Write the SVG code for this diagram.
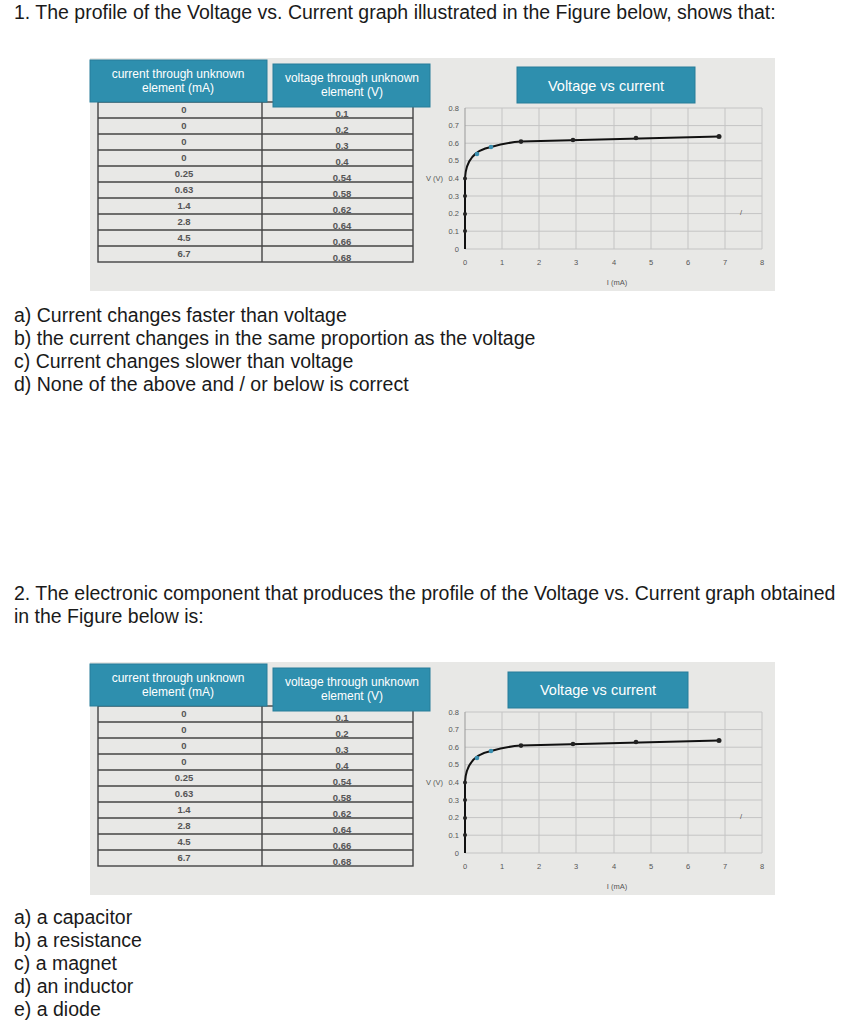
<svg xmlns="http://www.w3.org/2000/svg" xmlns:xlink="http://www.w3.org/1999/xlink" width="846" height="1024" viewBox="0 0 846 1024">
<style>
.q{font-family:"Liberation Sans",Arial,sans-serif;font-size:19.5px;fill:#1a1a1a}
.lbl{fill:#2e8fae;stroke:#267d99;stroke-width:1}
.lt{font-family:"Liberation Sans",Arial,sans-serif;font-size:12px;fill:#fff;text-anchor:middle}
.ct{font-family:"Liberation Sans",Arial,sans-serif;font-size:14.5px;fill:#fff;text-anchor:middle}
.tv{font-family:"Liberation Sans",Arial,sans-serif;font-size:9.5px;font-weight:bold;fill:#555;text-anchor:middle}
.ax{font-family:"Liberation Sans",Arial,sans-serif;font-size:7.5px;fill:#555}
.grid{stroke:#c4c4c4;stroke-width:1;fill:none}
.tl{stroke:#444;stroke-width:1.4;fill:none}
</style>
<rect width="846" height="1024" fill="#fff"/>
<text class="q" x="14" y="19">1. The profile of the Voltage vs. Current graph illustrated in the Figure below, shows that:</text>
<defs>
<g id="fig">
<rect x="90" y="58" width="685" height="233" fill="#e8e8e6"/>
<g id="table">
<rect class="tl" x="98" y="102" width="315" height="160"/>
<line class="tl" x1="262" y1="102" x2="262" y2="262"/>
<path class="tl" d="M98,118H413M98,134H413M98,150H413M98,166H413M98,182H413M98,198H413M98,214H413M98,230H413M98,246H413"/>
<g class="tv">
<text x="184" y="113">0</text><text x="184" y="129">0</text><text x="184" y="145">0</text><text x="184" y="161">0</text><text x="184" y="177">0.25</text><text x="184" y="193">0.63</text><text x="184" y="209">1.4</text><text x="184" y="225">2.8</text><text x="184" y="241">4.5</text><text x="184" y="257">6.7</text>
<text x="342" y="117">0.1</text><text x="342" y="133">0.2</text><text x="342" y="149">0.3</text><text x="342" y="165">0.4</text><text x="342" y="181">0.54</text><text x="342" y="197">0.58</text><text x="342" y="213">0.62</text><text x="342" y="229">0.64</text><text x="342" y="245">0,66</text><text x="342" y="261">0.68</text>
</g>
<rect class="lbl" x="90" y="60" width="177" height="42"/>
<text class="lt" x="178" y="78">current through unknown</text><text class="lt" x="178" y="92">element (mA)</text>
<rect class="lbl" x="273" y="64" width="157" height="43"/>
<text class="lt" x="352" y="82">voltage through unknown</text><text class="lt" x="352" y="96">element (V)</text>
</g>
<g id="chart">
<path class="grid" d="M465,108H762M465,125.6H762M465,143.2H762M465,160.8H762M465,178.4H762M465,196H762M465,213.6H762M465,231.2H762M465,249H762M502,108V249M539,108V249M576,108V249M614,108V249M651,108V249M688,108V249M725,108V249M762,108V249"/>
<line x1="465" y1="108" x2="465" y2="249" stroke="#999"/>
<g class="ax" text-anchor="end">
<text x="459" y="111">0.8</text><text x="459" y="128">0.7</text><text x="459" y="146">0.6</text><text x="459" y="163">0.5</text><text x="459" y="181">0.4</text><text x="459" y="199">0.3</text><text x="459" y="216">0.2</text><text x="459" y="234">0.1</text><text x="459" y="252">0</text>
<text x="443" y="181">V (V)</text>
</g>
<g class="ax" text-anchor="middle">
<text x="465" y="265">0</text><text x="502" y="265">1</text><text x="539" y="265">2</text><text x="576" y="265">3</text><text x="614" y="265">4</text><text x="651" y="265">5</text><text x="688" y="265">6</text><text x="725" y="265">7</text><text x="762" y="265">8</text>
<text x="617" y="285">I (mA)</text>
</g>
<path d="M465,249L465,178C466,160 475,150 491,147C505,143 515,142 521,141.6L719,136.4" fill="none" stroke="#111" stroke-width="2"/>
<g fill="#222">
<circle cx="465" cy="231" r="2"/><circle cx="465" cy="214" r="2"/><circle cx="465" cy="196" r="2"/><circle cx="465" cy="178.6" r="2"/>
<circle cx="477" cy="154" r="2.3" fill="#3a8fb0"/><circle cx="491" cy="147" r="2.3" fill="#3a8fb0"/><circle cx="521" cy="141.6" r="2.3"/><circle cx="573" cy="140" r="2.3"/><circle cx="636" cy="138" r="2.3"/><circle cx="719" cy="136.4" r="2.5"/>
</g>
<text class="ax" x="740" y="215">/</text>
</g>
</g>
</defs>
<g id="figure1">
<use xlink:href="#fig"/>
<rect class="lbl" x="517" y="67" width="178" height="36"/>
<text class="ct" x="606" y="91">Voltage vs current</text>
</g>
<text class="q" x="14" y="322">a) Current changes faster than voltage</text>
<text class="q" x="14" y="345">b) the current changes in the same proportion as the voltage</text>
<text class="q" x="14" y="368">c) Current changes slower than voltage</text>
<text class="q" x="14" y="391">d) None of the above and / or below is correct</text>
<text class="q" x="14" y="600">2. The electronic component that produces the profile of the Voltage vs. Current graph obtained</text>
<text class="q" x="14" y="623">in the Figure below is:</text>
<g id="figure2">
<use xlink:href="#fig" transform="translate(0,604)"/>
<rect class="lbl" x="508" y="672" width="180" height="36"/>
<text class="ct" x="598" y="695">Voltage vs current</text>
</g>
<text class="q" x="14" y="924">a) a capacitor</text>
<text class="q" x="14" y="947">b) a resistance</text>
<text class="q" x="14" y="970">c) a magnet</text>
<text class="q" x="14" y="993">d) an inductor</text>
<text class="q" x="14" y="1016">e) a diode</text>
</svg>
